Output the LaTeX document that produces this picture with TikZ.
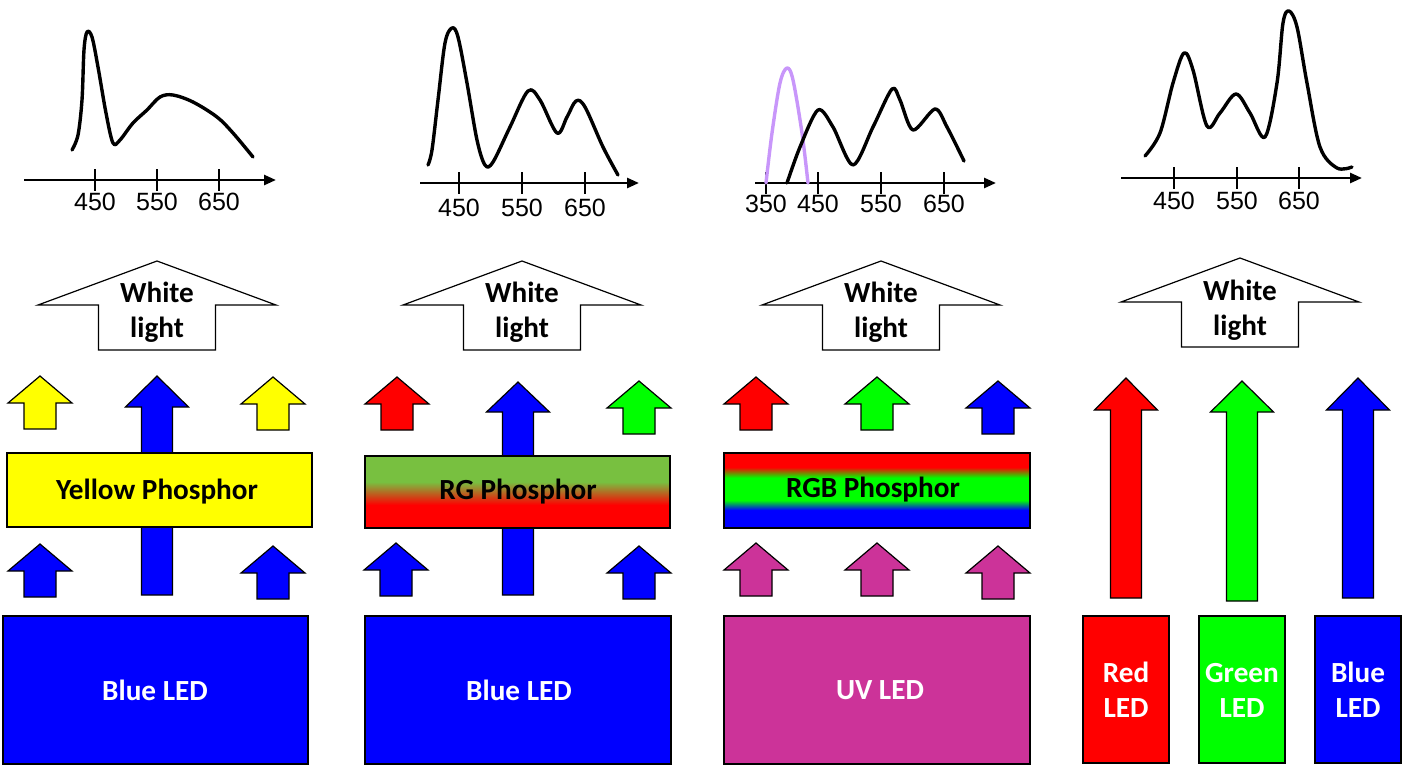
\documentclass[tikz,border=0pt]{standalone}
\usepackage{fontspec}
\setmainfont{Carlito}
\newfontfamily\axisfont{Liberation Sans}
\usetikzlibrary{arrows.meta}
\definecolor{uvpink}{RGB}{204,51,153}
\definecolor{uvviolet}{RGB}{200,150,250}
\definecolor{rggreen}{RGB}{120,192,64}
\definecolor{pureblue}{RGB}{0,0,255}
\definecolor{puregreen}{RGB}{0,255,0}
\definecolor{purered}{RGB}{255,0,0}
\definecolor{pureyellow}{RGB}{255,255,0}
\pgfdeclareverticalshading{rgphos}{100bp}{color(0bp)=(purered); color(41bp)=(purered);
  color(57bp)=(rggreen); color(100bp)=(rggreen)}
\pgfdeclareverticalshading{rgbphos}{100bp}{color(0bp)=(pureblue); color(37bp)=(pureblue);
  color(43.5bp)=(puregreen); color(58.5bp)=(puregreen); color(65.5bp)=(purered); color(100bp)=(purered)}
% colour, tip x, tip y, head half width, shaft half width, head base y, foot y
\newcommand{\blockarrow}[7]{%
  \draw[arrowline,fill=#1] (#2,#3) -- (#2+#4,#6) -- (#2+#5,#6) -- (#2+#5,#7)
    -- (#2-#5,#7) -- (#2-#5,#6) -- (#2-#4,#6) -- cycle;}

\begin{document}
\begin{tikzpicture}
[x=0.5pt,y=-0.5pt,%
  arrowline/.style={draw=black,line width=0.6pt,line join=miter},%
  curve/.style={line width=1.7pt,line cap=round,line join=round},%
  axisline/.style={line width=1.3pt,-{Triangle[length=6pt,width=5pt]}},%
  axistick/.style={line width=1.1pt},%
  numlabel/.style={font=\axisfont\fontsize{12.5}{14}\selectfont,inner sep=0pt},%
  boxtext/.style={font=\bfseries\fontsize{14.6}{17.5}\selectfont,inner sep=0pt,align=center},%
  ledtext/.style={boxtext,text=white},%
  boxline/.style={draw=black,line width=0.6pt}]
\useasboundingbox (0,0) rectangle (1405,767);
%% spectra
\draw[axisline] (24,180) -- (276,180);
\foreach \tx/\lab in {95/450, 157/550, 219/650}
  \draw[axistick] (\tx,169) -- (\tx,191) node[numlabel,below=0.5pt] {\lab};
\draw[curve] plot[smooth,tension=0.55] coordinates {(72,150) (78,135) (82,100) (84,50)
  (87,32) (92,37) (98,67) (106,113) (113,143) (120,140) (133,123) (147,110) (160,97)
  (173,95) (193,102) (217,117) (233,133) (253,157)};
%%
\draw[axisline] (420,183) -- (639,183);
\foreach \tx/\lab in {459/450, 522/550, 585/650}
  \draw[axistick] (\tx,172) -- (\tx,194) node[numlabel,below=2pt] {\lab};
\draw[curve] plot[smooth,tension=0.55] coordinates {(428,165) (432,150) (438,100) (445,43)
  (452,28) (458,37) (467,83) (477,140) (485,165) (493,162) (510,127) (528,91) (540,100)
  (557,133) (567,117) (576,101) (585,107) (603,147) (618,175)};
%%
\draw[axisline] (755,183) -- (996,183);
\foreach \tx/\lab in {766/350, 818/450, 881/550, 944/650}
  \draw[axistick] (\tx,172) -- (\tx,194) node[numlabel,below=0pt] {\lab};
\draw[curve,uvviolet] plot[smooth,tension=0.55] coordinates {(766,183) (772,133) (780,83)
  (787,68) (793,80) (802,133) (808,183)};
\draw[curve] plot[smooth,tension=0.5] coordinates {(787,183) (800,147) (818,110) (833,127)
  (853,165) (873,127) (892,89) (900,100) (913,130) (935,109) (947,127) (964,161)};
%%
\draw[axisline] (1121,178) -- (1362,178);
\foreach \tx/\lab in {1174/450, 1237/550, 1299/650}
  \draw[axistick] (\tx,167) -- (\tx,189) node[numlabel,below=1pt] {\lab};
\draw[curve] plot[smooth,tension=0.55] coordinates {(1145,156) (1160,133) (1173,83)
  (1184,53) (1193,70) (1207,126) (1220,113) (1236,94) (1250,113) (1265,137) (1277,83)
  (1283,23) (1289,11) (1297,27) (1307,83) (1320,147) (1337,168) (1352,167)};
%% white light
\foreach \tx/\ty/\by/\bot in {157/261/305/350, 522/261/305/350, 881/261/305/350,
  1240/258/302/347}
  \blockarrow{white}{\tx}{\ty}{119}{58.5}{\by}{\bot};
\node[boxtext] (white1) at (157,312.5) {White\\light};
\node[boxtext] (white2) at (522,312.5) {White\\light};
\node[boxtext] (white3) at (881,312.5) {White\\light};
\node[boxtext] (white4) at (1240,310) {White\\light};
%% long arrows
\foreach \col/\tx/\ty/\by/\bot in {pureblue/157/376/407/595, pureblue/518/382/412/595,
  purered/1126/378/410/598, puregreen/1242/381/412/601, pureblue/1358/378/410/598}
  \blockarrow{\col}{\tx}{\ty}{31.5}{15.5}{\by}{\bot};
%% short arrows
\foreach \col/\tx/\ty in {pureyellow/40/376, pureyellow/273/377, pureblue/40/544,
  pureblue/273/546, purered/397/377, puregreen/639/381, pureblue/396/543, pureblue/639/546,
  purered/756/377, puregreen/877/377, pureblue/998/381, uvpink/756/543, uvpink/877/543,
  uvpink/998/546}
  \blockarrow{\col}{\tx}{\ty}{32}{16}{\ty+27}{\ty+53};
%% phosphors
\draw[boxline,fill=pureyellow] (7,453) rectangle (312,527);
\node[boxtext] (yphos) at (157,492) {Yellow Phosphor};
\shade[boxline,shading=rgphos] (365,456) rectangle (670,528);
\node[boxtext] (rgphos) at (518,492) {RG Phosphor};
\shade[boxline,shading=rgbphos] (724,453) rectangle (1030,528);
\node[boxtext] (rgbphos) at (873,490) {RGB Phosphor};
%% leds
\draw[boxline,fill=pureblue] (3,616) rectangle (308,764);
\node[ledtext] (blueled1) at (155,690) {Blue LED};
\draw[boxline,fill=pureblue] (365,616) rectangle (671,764);
\node[ledtext] (blueled2) at (519,690) {Blue LED};
\draw[boxline,fill=uvpink] (724,616) rectangle (1030,764);
\node[ledtext] (uvled) at (880,690) {UV LED};
\draw[boxline,fill=purered] (1083,616) rectangle (1169,763);
\node[ledtext] (redled) at (1126,690) {Red\\LED};
\draw[boxline,fill=puregreen] (1199,616) rectangle (1285,763);
\node[ledtext] (greenled) at (1242,690) {Green\\LED};
\draw[boxline,fill=pureblue] (1315,616) rectangle (1401,763);
\node[ledtext] (blueled3) at (1358,690) {Blue\\LED};
\end{tikzpicture}
\end{document}
